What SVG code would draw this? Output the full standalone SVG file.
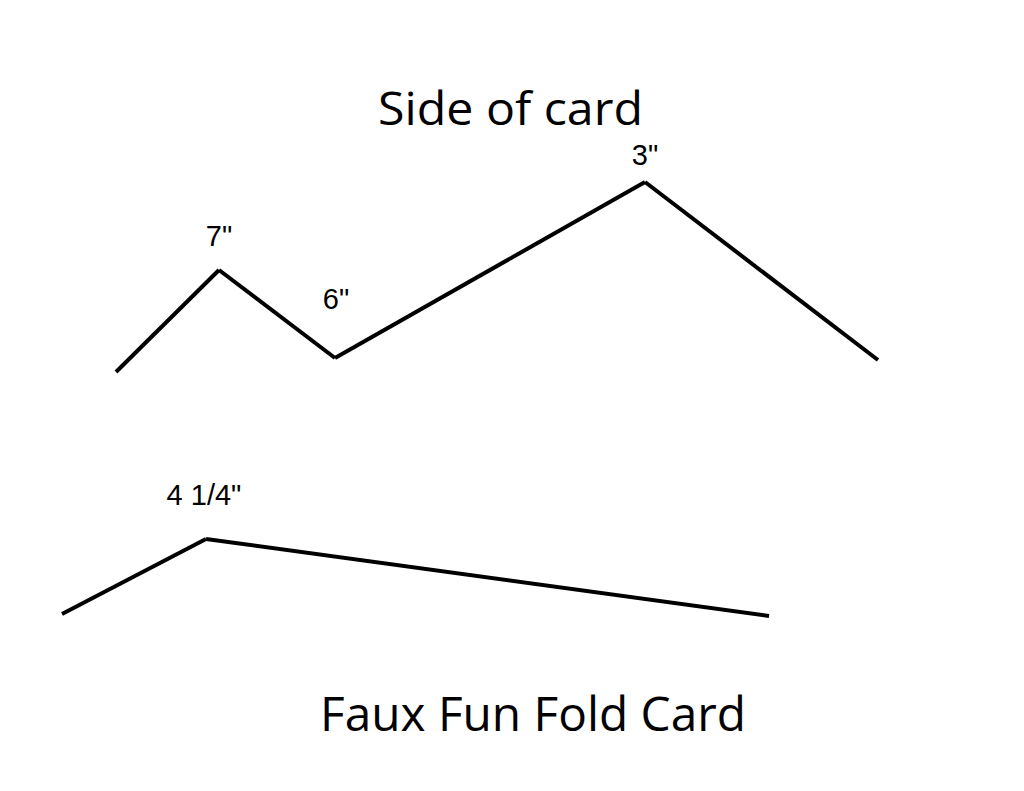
<svg xmlns="http://www.w3.org/2000/svg" width="1024" height="791" viewBox="0 0 1024 791">
<style>
.title{font-family:"Open Sans","Liberation Sans",sans-serif;fill:#000}
.lbl{font-family:"Liberation Sans",Arial,sans-serif;font-size:29px;fill:#000}
.seg{stroke:#000;stroke-width:4;fill:none;stroke-linecap:butt}
</style>
<rect width="1024" height="791" fill="#fff"/>
<g id="title-side"><text class="title" x="378" y="125" font-size="46" textLength="265" lengthAdjust="spacingAndGlyphs">Side of card</text></g>
<g id="title-faux"><text class="title" x="320" y="731" font-size="48" textLength="426" lengthAdjust="spacingAndGlyphs">Faux Fun Fold Card</text></g>
<g id="label-7"><text class="lbl" x="219" y="246" text-anchor="middle">7"</text></g>
<g id="label-6"><text class="lbl" x="336" y="309" text-anchor="middle">6"</text></g>
<g id="label-3"><text class="lbl" x="645" y="165" text-anchor="middle">3"</text></g>
<g id="label-414"><text class="lbl" x="204" y="505" text-anchor="middle">4 1/4"</text></g>
<g id="connectors">
<line class="seg" x1="116" y1="372" x2="219" y2="270"/>
<line class="seg" x1="219" y1="270" x2="335" y2="358"/>
<line class="seg" x1="335" y1="358" x2="645" y2="182"/>
<line class="seg" x1="645" y1="182" x2="878" y2="360"/>
<line class="seg" x1="62" y1="614" x2="206" y2="539"/>
<line class="seg" x1="206" y1="539" x2="769" y2="616"/>
</g>
</svg>
